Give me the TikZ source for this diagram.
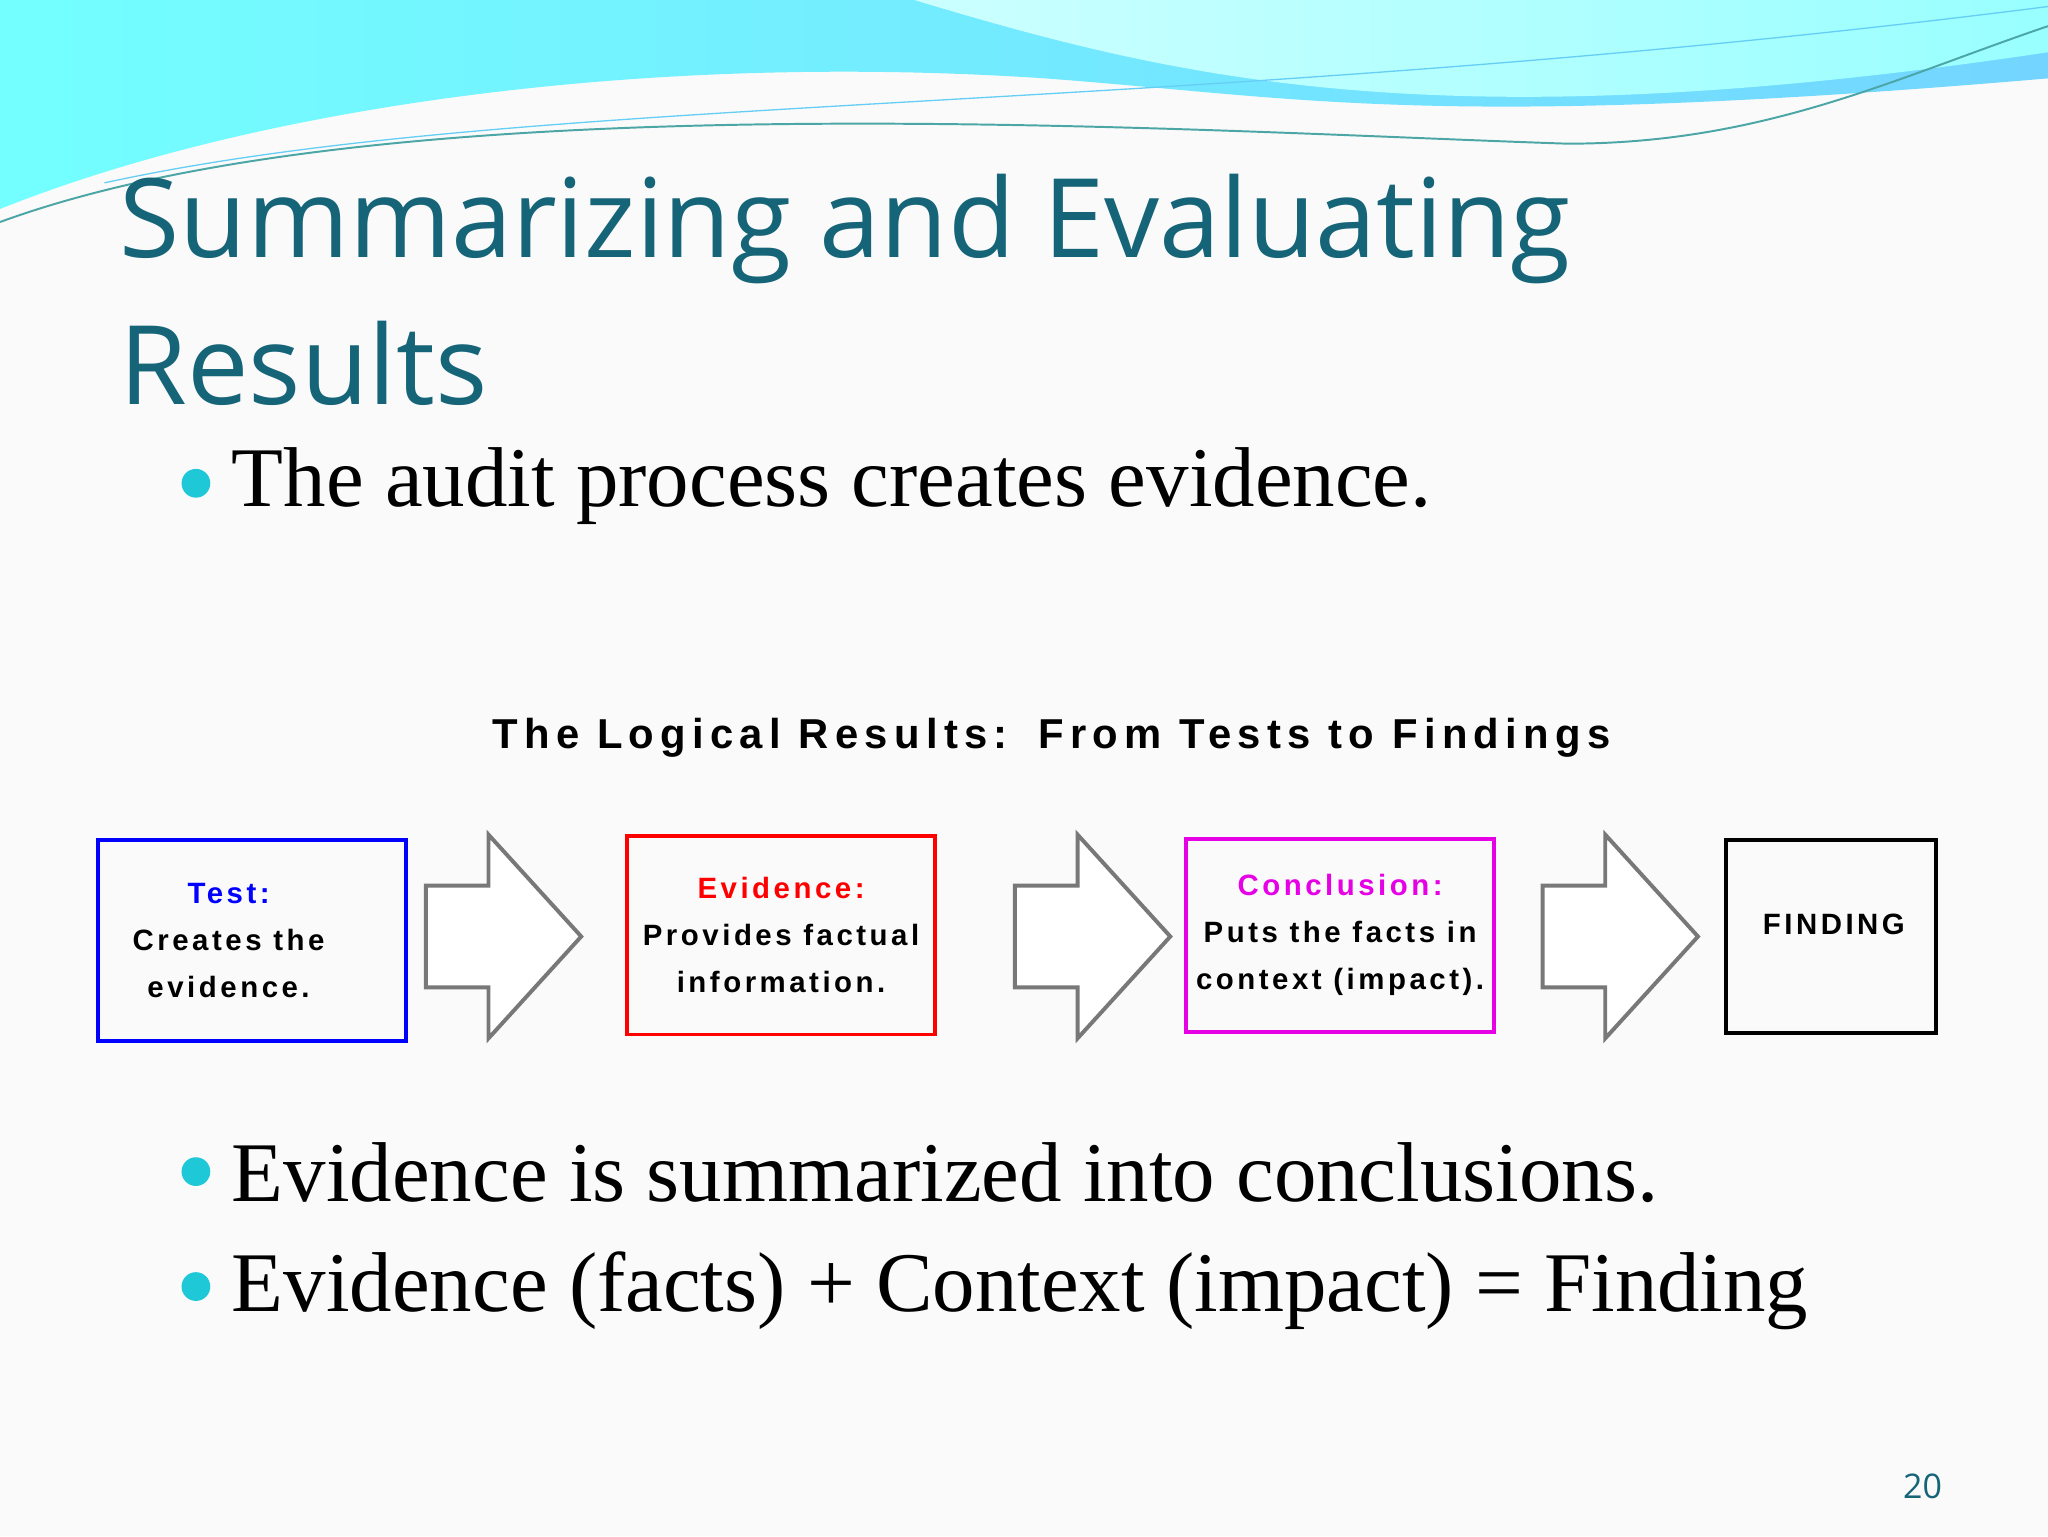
\documentclass[tikz,border=0pt]{standalone}
\usepackage{fontspec}
\setmainfont{Liberation Serif}
\newfontfamily\ttl{Open Sans}
\newfontfamily\sansb[LetterSpace=12]{Liberation Sans}
\newfontfamily\sanshd[LetterSpace=15]{Liberation Sans}
\definecolor{teal1}{RGB}{22,100,120}
\definecolor{bul}{RGB}{30,200,215}
\definecolor{arr}{RGB}{120,120,120}
\definecolor{mag}{RGB}{230,0,230}
\begin{document}
\begin{tikzpicture}[x=1pt,y=-1pt,
  box/.style={draw,line width=3pt,minimum width=236pt,minimum height=152pt,align=center,font=\sansb\bfseries\fontsize{22.5}{36}\selectfont},
  bullet/.style={anchor=west,font=\fontsize{65}{70}\selectfont}]
\fill[white!96!gray] (0,0) rectangle (1568,1176);
\useasboundingbox (0,0) rectangle (1568,1176);
% waves
\shade[left color=cyan!55!white,right color=blue!30!cyan!55] (0,0) -- (0,160) .. controls (200,80) and (500,40) .. (800,60) .. controls (1000,75) and (1100,100) .. (1568,60) -- (1568,0) -- cycle;
\shade[left color=cyan!20,right color=cyan!40] (700,0) .. controls (900,60) and (1100,110) .. (1568,40) -- (1568,0) -- cycle;
\draw[teal!70,line width=1.5pt] (0,170) .. controls (300,60) and (900,100) .. (1200,110) .. controls (1350,110) and (1450,60) .. (1568,20);
\draw[cyan!60,line width=1pt] (80,140) .. controls (400,70) and (900,90) .. (1568,5);
% title
\node[anchor=west,font=\ttl\fontsize{84}{112}\selectfont,text=teal1,align=left] (title) at (88,222) {Summarizing and Evaluating\\Results};
\node[bullet] (b1) at (174,372) {The audit process creates evidence.};
\fill[bul] (150,370) circle (11);
\node[font=\sanshd\bfseries\fontsize{32}{34}\selectfont] (hdr) at (805,565) {The Logical Results:\, From Tests to Findings};
\node[box,draw=blue,minimum height=154pt] (t) at (193,720) {};
\node[align=center,font=\sansb\bfseries\fontsize{22.5}{36}\selectfont] (tt) at (175,720) {\textcolor{blue}{Test:}\\Creates the\\evidence.};
\node[box,draw=red] (e) at (598,716) {\textcolor{red}{Evidence:}\\Provides factual\\information.};
\node[box,draw=mag,minimum height=148pt] (c) at (1026,716) {\textcolor{mag}{Conclusion:}\\Puts the facts in\\context (impact).};
\node[box,draw=black,minimum width=161pt,minimum height=148pt] (f) at (1402,717) {};
\node[font=\sansb\bfseries\fontsize{22.5}{36}\selectfont] (ft) at (1404,708) {FINDING};
\foreach \n/\x in {a1/326,a2/777,a3/1181}{
  \coordinate (\n) at (\x,717);
  \draw[arr,fill=white,line width=3pt,line join=miter] (\n) ++(0,-39) -- ++(48,0) -- ++(0,-39) -- ++(71,78) -- ++(-71,78) -- ++(0,-39) -- ++(-48,0) -- cycle;
}
\node[bullet] (b2) at (174,898) {Evidence is summarized into conclusions.};
\fill[bul] (150,897) circle (11);
\node[bullet] (b3) at (174,988) {Evidence (facts) + Context (impact) = Finding};
\fill[bul] (150,985) circle (11);
\node[font=\ttl\fontsize{26}{30}\selectfont,text=teal1] (pg) at (1472,1138) {20};
\end{tikzpicture}
\end{document}
